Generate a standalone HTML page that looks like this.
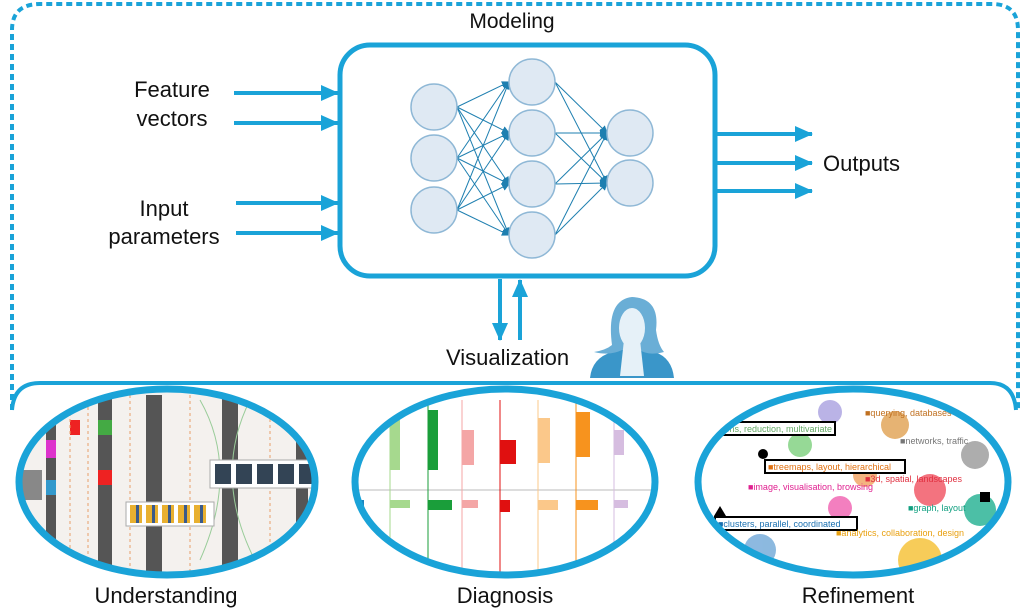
<!DOCTYPE html>
<html><head><meta charset="utf-8"><style>
html,body{margin:0;padding:0;background:#fff}
svg{display:block}
text{font-family:"Liberation Sans",sans-serif;fill:#111}
</style></head><body>
<svg width="1024" height="608" viewBox="0 0 1024 608" xmlns="http://www.w3.org/2000/svg">
<defs>
<marker id="AH" markerWidth="18" markerHeight="16" refX="17" refY="8" orient="auto" markerUnits="userSpaceOnUse"><path d="M0,0 L18,8 L0,16 z" fill="#1aa3d8"/></marker>
<marker id="sh" markerWidth="8" markerHeight="8" refX="7" refY="4" orient="auto" markerUnits="userSpaceOnUse"><path d="M0,0 L8,4 L0,8 z" fill="#1e7fb0"/></marker>
<clipPath id="c1"><ellipse cx="167" cy="482" rx="148" ry="93"/></clipPath>
<clipPath id="c2"><ellipse cx="505" cy="482" rx="150" ry="93"/></clipPath>
<clipPath id="c3"><ellipse cx="853" cy="482" rx="155" ry="93"/></clipPath>
</defs>
<path d="M12,410 L12,30 Q12,4 40,4 L992,4 Q1018,4 1018,30 L1018,410" fill="none" stroke="#1aa3d8" stroke-width="4" stroke-dasharray="6,4"/>
<path d="M12,410 Q14,383 40,383 L990,383 Q1014,383 1016,410" fill="none" stroke="#1aa3d8" stroke-width="4"/>
<text x="512" y="28" font-size="21" text-anchor="middle">Modeling</text>
<rect x="340" y="45" width="375" height="231" rx="30" fill="#fff" stroke="#1aa3d8" stroke-width="5"/>
<g stroke="#1aa3d8" stroke-width="4" marker-end="url(#AH)">
<line x1="234" y1="93" x2="338" y2="93"/><line x1="234" y1="123" x2="338" y2="123"/>
<line x1="236" y1="203" x2="338" y2="203"/><line x1="236" y1="233" x2="338" y2="233"/>
<line x1="717" y1="134" x2="812" y2="134"/><line x1="717" y1="163" x2="812" y2="163"/><line x1="717" y1="191" x2="812" y2="191"/>
<line x1="500" y1="279" x2="500" y2="340"/><line x1="520" y1="340" x2="520" y2="280"/>
</g>
<g font-size="22" text-anchor="middle">
<text x="172" y="97">Feature</text><text x="172" y="126">vectors</text>
<text x="164" y="216">Input</text><text x="164" y="244">parameters</text>
</g>
<text x="823" y="171" font-size="22">Outputs</text>
<text x="446" y="365" font-size="22">Visualization</text>
<g stroke="#1e7fb0" stroke-width="1" marker-end="url(#sh)">
<line x1="457" y1="107" x2="509" y2="82"/><line x1="457" y1="107" x2="509" y2="133"/><line x1="457" y1="107" x2="509" y2="184"/><line x1="457" y1="107" x2="509" y2="235"/>
<line x1="457" y1="158" x2="509" y2="82"/><line x1="457" y1="158" x2="509" y2="133"/><line x1="457" y1="158" x2="509" y2="184"/><line x1="457" y1="158" x2="509" y2="235"/>
<line x1="457" y1="210" x2="509" y2="82"/><line x1="457" y1="210" x2="509" y2="133"/><line x1="457" y1="210" x2="509" y2="184"/><line x1="457" y1="210" x2="509" y2="235"/>
<line x1="555" y1="82" x2="607" y2="133"/><line x1="555" y1="82" x2="607" y2="183"/>
<line x1="555" y1="133" x2="607" y2="133"/><line x1="555" y1="133" x2="607" y2="183"/>
<line x1="555" y1="184" x2="607" y2="133"/><line x1="555" y1="184" x2="607" y2="183"/>
<line x1="555" y1="235" x2="607" y2="133"/><line x1="555" y1="235" x2="607" y2="183"/>
</g>
<g fill="#dfe9f3" stroke="#8fb8d6" stroke-width="1.5">
<circle cx="434" cy="107" r="23"/><circle cx="434" cy="158" r="23"/><circle cx="434" cy="210" r="23"/>
<circle cx="532" cy="82" r="23"/><circle cx="532" cy="133" r="23"/><circle cx="532" cy="184" r="23"/><circle cx="532" cy="235" r="23"/>
<circle cx="630" cy="133" r="23"/><circle cx="630" cy="183" r="23"/>
</g>
<!-- person -->
<g>
<path d="M590,378 Q592,358 612,352 L625,348 L640,348 L655,352 Q672,358 674,378 Z" fill="#3a96c9"/>
<path d="M612,345 Q606,300 632,297 Q660,298 656,330 Q658,345 664,352 Q648,356 640,350 L622,350 Q610,356 594,352 Q606,350 612,345 Z" fill="#6aaed6"/>
<ellipse cx="632" cy="328" rx="13" ry="20" fill="#e6f1f8"/>
<path d="M624,340 L640,340 L644,376 L620,376 Z" fill="#e6f1f8"/>
</g>
<g clip-path="url(#c1)">
<rect x="0" y="380" width="330" height="200" fill="#f4f1ee"/>
<g fill="#555"><rect x="46" y="395" width="10" height="180"/><rect x="98" y="395" width="14" height="180"/><rect x="146" y="395" width="16" height="180"/><rect x="222" y="395" width="16" height="180"/><rect x="296" y="395" width="12" height="180"/></g>
<rect x="46" y="400" width="10" height="20" fill="#e33"/><rect x="46" y="440" width="10" height="18" fill="#d3c"/><rect x="70" y="420" width="10" height="15" fill="#e22"/><rect x="46" y="480" width="10" height="15" fill="#39c"/>
<rect x="98" y="420" width="14" height="15" fill="#4a4"/><rect x="98" y="470" width="14" height="15" fill="#e22"/>
<rect x="20" y="470" width="22" height="30" fill="#888"/>
<g stroke="#e9a06a" stroke-width="1" fill="none" stroke-dasharray="3,3"><line x1="70" y1="395" x2="70" y2="575"/><line x1="88" y1="395" x2="88" y2="575"/><line x1="130" y1="395" x2="130" y2="575"/><line x1="190" y1="395" x2="190" y2="575"/><line x1="270" y1="395" x2="270" y2="575"/></g>
<g stroke="#9c9" stroke-width="1" fill="none"><path d="M200,400 Q240,470 200,560"/><path d="M250,400 Q210,480 260,570"/></g>
<rect x="210" y="460" width="106" height="28" fill="#fff" stroke="#aaa"/>
<g fill="#345"><rect x="215" y="464" width="16" height="20"/><rect x="236" y="464" width="16" height="20"/><rect x="257" y="464" width="16" height="20"/><rect x="278" y="464" width="16" height="20"/><rect x="299" y="464" width="14" height="20"/></g>
<rect x="126" y="502" width="88" height="24" fill="#fff" stroke="#aaa"/>
<g fill="#e8b030"><rect x="130" y="505" width="12" height="18"/><rect x="146" y="505" width="12" height="18"/><rect x="162" y="505" width="12" height="18"/><rect x="178" y="505" width="12" height="18"/><rect x="194" y="505" width="12" height="18"/></g>
<g fill="#3a5a8a"><rect x="136" y="505" width="3" height="18"/><rect x="152" y="505" width="3" height="18"/><rect x="168" y="505" width="3" height="18"/><rect x="184" y="505" width="3" height="18"/><rect x="200" y="505" width="3" height="18"/></g>
</g>
<ellipse cx="167" cy="482" rx="148" ry="93" fill="none" stroke="#1aa3d8" stroke-width="7"/>
<g clip-path="url(#c2)">
<rect x="340" y="380" width="330" height="200" fill="#fff"/>
<line x1="340" y1="490" x2="670" y2="490" stroke="#ddd" stroke-width="2"/>
<g fill="#a6d98e"><rect x="390" y="420" width="10" height="50"/><rect x="390" y="500" width="20" height="8"/></g>
<g fill="#1a9e3a"><rect x="428" y="410" width="10" height="60"/><rect x="428" y="500" width="24" height="10"/></g>
<g fill="#f4a6a6"><rect x="462" y="430" width="12" height="35"/><rect x="462" y="500" width="16" height="8"/></g>
<g fill="#e01010"><rect x="500" y="440" width="16" height="24"/><rect x="500" y="500" width="10" height="12"/></g>
<g fill="#fbc88a"><rect x="538" y="418" width="12" height="45"/><rect x="538" y="500" width="20" height="10"/></g>
<g fill="#f7931e"><rect x="576" y="412" width="14" height="45"/><rect x="576" y="500" width="22" height="10"/></g>
<g fill="#d6bde0"><rect x="614" y="430" width="10" height="25"/><rect x="614" y="500" width="14" height="8"/></g>
<rect x="352" y="500" width="12" height="10" fill="#1a86c0"/>
<g stroke-width="1"><line x1="390" y1="400" x2="390" y2="580" stroke="#a6d98e"/><line x1="428" y1="400" x2="428" y2="580" stroke="#1a9e3a"/><line x1="462" y1="400" x2="462" y2="580" stroke="#f4a6a6"/><line x1="500" y1="400" x2="500" y2="580" stroke="#e01010"/><line x1="538" y1="400" x2="538" y2="580" stroke="#fbc88a"/><line x1="576" y1="400" x2="576" y2="580" stroke="#f7931e"/><line x1="614" y1="400" x2="614" y2="580" stroke="#d6bde0"/></g>
</g>
<ellipse cx="505" cy="482" rx="150" ry="93" fill="none" stroke="#1aa3d8" stroke-width="7"/>
<g clip-path="url(#c3)">
<rect x="690" y="380" width="330" height="200" fill="#fff"/>
<g opacity="0.8">
<circle cx="830" cy="412" r="12" fill="#a9a0e0"/><circle cx="895" cy="425" r="14" fill="#e0a050"/><circle cx="975" cy="455" r="14" fill="#999"/>
<circle cx="800" cy="445" r="12" fill="#7cd07c"/><circle cx="865" cy="475" r="12" fill="#f0a060"/><circle cx="930" cy="490" r="16" fill="#f05060"/>
<circle cx="980" cy="510" r="16" fill="#20b090"/><circle cx="840" cy="508" r="12" fill="#f060b0"/><circle cx="760" cy="550" r="16" fill="#70a8d8"/><circle cx="920" cy="560" r="22" fill="#f5c030"/>
</g>
<g font-size="9" font-family="Liberation Sans,sans-serif">
<rect x="715" y="422" width="120" height="13" fill="#fff" stroke="#000" stroke-width="2"/><text x="718" y="432" style="fill:#6a6">sions, reduction, multivariate</text>
<text x="865" y="416" style="fill:#c07020">■querying, databases</text>
<text x="900" y="444" style="fill:#777">■networks, traffic</text>
<rect x="765" y="460" width="140" height="13" fill="#fff" stroke="#000" stroke-width="2"/><text x="768" y="470" style="fill:#e07010">■treemaps, layout, hierarchical</text>
<text x="865" y="482" style="fill:#e03040">■3d, spatial, landscapes</text>
<text x="748" y="490" style="fill:#e02090">■image, visualisation, browsing</text>
<text x="908" y="511" style="fill:#10a080">■graph, layout</text>
<rect x="715" y="517" width="142" height="13" fill="#fff" stroke="#000" stroke-width="2"/><text x="718" y="527" style="fill:#1a70b0">■clusters, parallel, coordinated</text>
<text x="836" y="536" style="fill:#e8a010">■analytics, collaboration, design</text>
</g>
<circle cx="763" cy="454" r="5" fill="#000"/><rect x="980" y="492" width="10" height="10" fill="#000"/><path d="M714,516 L720,506 L726,516 Z" fill="#000"/>
</g>
<ellipse cx="853" cy="482" rx="155" ry="93" fill="none" stroke="#1aa3d8" stroke-width="7"/>
<g font-size="22" text-anchor="middle">
<text x="166" y="603">Understanding</text><text x="505" y="603">Diagnosis</text><text x="858" y="603">Refinement</text>
</g>
</svg>
</body></html>
